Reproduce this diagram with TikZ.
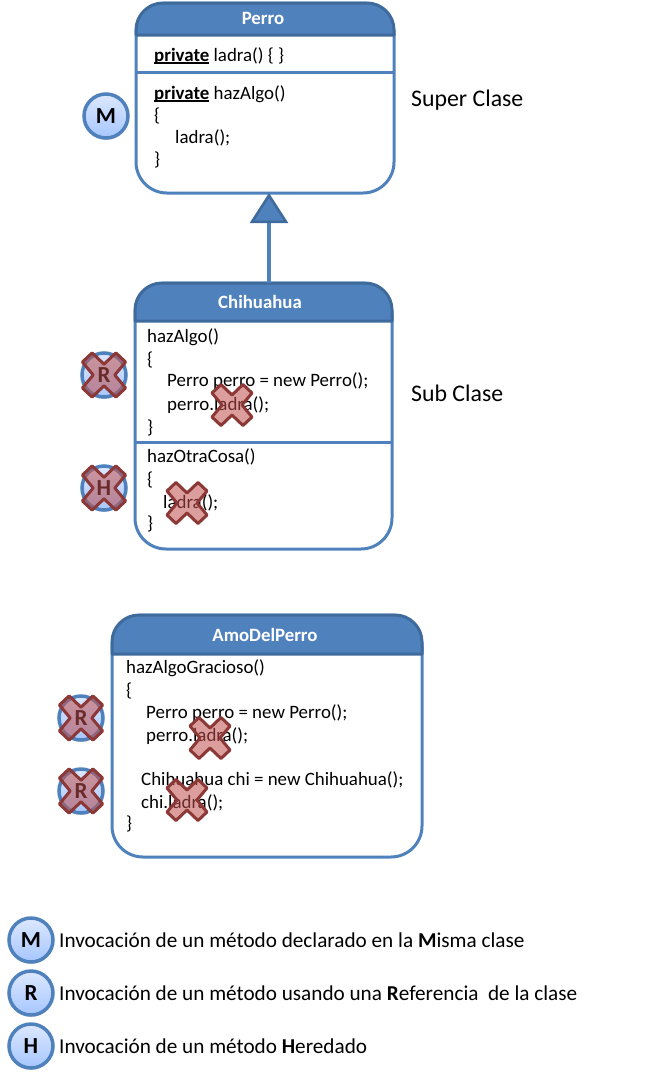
\documentclass[tikz,border=0pt]{standalone}
\usepackage{fontspec}
\setmainfont{Carlito}
\usetikzlibrary{arrows.meta,shadows}
\definecolor{azul}{HTML}{4F81BD}
\definecolor{azulosc}{HTML}{3F6A9C}
\definecolor{rojo}{HTML}{C0504D}
\definecolor{rojoosc}{HTML}{8C3836}
\definecolor{cielo}{HTML}{DCE8FF}
\definecolor{celeste}{HTML}{A6C6FF}
\newcommand{\subr}[1]{\setbox0=\hbox{#1}\rlap{\rule[-2.6pt]{\wd0}{1.9pt}}\box0}
\newcommand{\privado}{\subr{\textbf{private}}}
\newcommand{\cabecera}[2]{\draw[cabecera] (#1.west |- 0,#2) [rounded corners=27pt] -- (#1.north west) -- (#1.north east) [sharp corners] -- (#1.east |- 0,#2) -- cycle;}
\tikzset{
  tache/.pic={\draw[line width=3pt,draw=rojoosc,fill=rojo,fill opacity=.55,line join=round]
    (0,-10) -- (11,-20.5) -- (20,-12) -- (10,0) -- (20,12) -- (11,20.5) -- (0,10)
    -- (-11,20.5) -- (-20,12) -- (-10,0) -- (-20,-12) -- (-11,-20.5) -- cycle;}
}
\begin{document}
\begin{tikzpicture}[x=1pt,y=-1pt,
    clase/.style={rectangle,draw=azul,fill=white,line width=3pt,rounded corners=31pt,inner sep=0pt,outer sep=0pt},
    cabecera/.style={draw=azulosc,fill=azul,line width=3pt,line join=round},
    titulo/.style={text=white,font=\fontsize{18.8}{22}\selectfont\bfseries},
    codigo/.style={anchor=base west,inner sep=0pt,font=\fontsize{18.9}{22}\selectfont},
    leyenda/.style={anchor=base west,inner sep=0pt,font=\fontsize{21.2}{24}\selectfont},
    rotulo/.style={anchor=base west,inner sep=0pt,font=\fontsize{23.8}{28}\selectfont},
    marca/.style={circle,draw=azul,line width=3.5pt,top color=cielo,bottom color=celeste,
      minimum size=44pt,inner sep=0pt,drop shadow={shadow xshift=0pt,shadow yshift=-2pt,opacity=.3},
      font=\fontsize{23}{26}\selectfont\bfseries},
    herencia/.style={draw=azul,line width=4pt,-{Triangle[length=30pt,width=38pt,fill=azul,color=azulosc,line width=2.5pt]}}]
  \useasboundingbox (0,0) rectangle (655,1079);

  % clases
  \node (perro) at (265,98) [clase,minimum width=258pt,minimum height=190pt] {};
  \node (chihuahua) at (263.5,416) [clase,minimum width=257pt,minimum height=266pt] {};
  \node (amo) at (267,736) [clase,minimum width=310pt,minimum height=242pt] {};
  \cabecera{perro}{35}
  \cabecera{chihuahua}{321}
  \cabecera{amo}{654}
  \node (tperro) at (263,18) [titulo] {Perro};
  \node (tchihuahua) at (260,302) [titulo] {Chihuahua};
  \node (tamo) at (265,635) [titulo] {AmoDelPerro};

  % separadores
  \coordinate (s1) at (0,72);
  \coordinate (s2) at (0,442);
  \draw[azul,line width=3pt] (perro.west |- s1) -- (perro.east |- s1);
  \draw[azul,line width=3pt] (chihuahua.west |- s2) -- (chihuahua.east |- s2);

  % herencia
  \coordinate (h) at (269,0);
  \draw[herencia] (h |- chihuahua.north) -- (h |- perro.south);

  % Perro
  \node (p1) at (154,61) [codigo] {\privado{} ladra() \{ \}};
  \node (p2) at (154,99) [codigo] {\privado{} hazAlgo()};
  \node (p3) at (154,121) [codigo] {\{};
  \node (p4) at (175,143) [codigo] {ladra();};
  \node (p5) at (154,165) [codigo] {\}};
  \node (super) at (411,106) [rotulo] {Super Clase};

  % Chihuahua
  \node (c1) at (147,342) [codigo] {hazAlgo()};
  \node (c2) at (147,365) [codigo] {\{};
  \node (c3) at (167,386) [codigo] {Perro perro = new Perro();};
  \node (c4) at (167,410) [codigo] {perro.ladra();};
  \node (c5) at (147,433) [codigo] {\}};
  \node (c6) at (147,462) [codigo] {hazOtraCosa()};
  \node (c7) at (147,485) [codigo] {\{};
  \node (c8) at (163,508) [codigo] {ladra();};
  \node (c9) at (147,529) [codigo] {\}};
  \node (sub) at (411,401) [rotulo] {Sub Clase};

  % AmoDelPerro
  \node (a1) at (126,673) [codigo] {hazAlgoGracioso()};
  \node (a2) at (126,696) [codigo] {\{};
  \node (a3) at (146,718) [codigo] {Perro perro = new Perro();};
  \node (a4) at (146,741) [codigo] {perro.ladra();};
  \node (a5) at (141,785) [codigo] {Chihuahua chi = new Chihuahua();};
  \node (a6) at (141,808) [codigo] {chi.ladra();};
  \node (a7) at (126,829) [codigo] {\}};

  % marcas
  \node (m1) at (106,116) [marca] {M};
  \node (m2) at (104,375) [marca] {R};
  \node (m3) at (104,488) [marca] {H};
  \node (m4) at (81,718) [marca] {R};
  \node (m5) at (81,791) [marca] {R};
  \foreach \x/\y in {232/405,187/503,210/738,187/800}
    \pic at (\x,\y) {tache};
  \foreach \x/\y in {104/375,104/488,81/718,81/791}
    \pic[scale=1.08] at (\x,\y) {tache};

  % leyenda
  \node (l1) at (31,940) [marca] {M};
  \node (l2) at (31,993) [marca] {R};
  \node (l3) at (31,1046) [marca] {H};
  \node (t1) at (59,947) [leyenda] {Invocación de un método declarado en la \textbf{M}isma clase};
  \node (t2) at (59,1000) [leyenda] {Invocación de un método usando una \textbf{R}eferencia\ \ de la clase};
  \node (t3) at (59,1053) [leyenda] {Invocación de un método \textbf{H}eredado};
\end{tikzpicture}
\end{document}
